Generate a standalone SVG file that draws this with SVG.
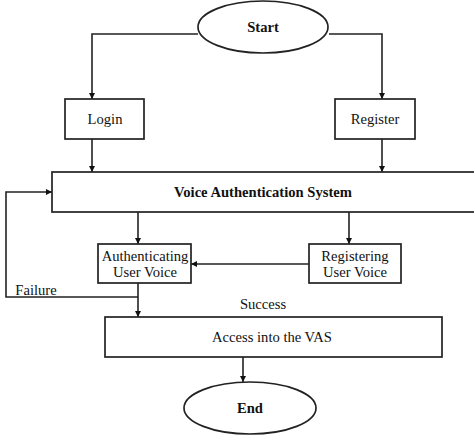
<svg xmlns="http://www.w3.org/2000/svg" width="474" height="436" viewBox="0 0 474 436">
<style>
.s{fill:#fff;stroke:#222;stroke-width:1.7}
.c{fill:none;stroke:#222;stroke-width:1.6}
text{font-family:"Liberation Serif","Times New Roman",serif;font-size:14.6px;fill:#111;text-anchor:middle}
.b{font-weight:bold}
</style>
<defs>
<marker id="a" viewBox="0 0 10 10" refX="10" refY="5" markerWidth="6" markerHeight="7" orient="auto" markerUnits="userSpaceOnUse">
<path d="M0,0 L10,5 L0,10 z" fill="#111"/>
</marker>
</defs>
<rect width="474" height="436" fill="#fff"/>
<g id="connectors">
<path class="c" d="M198,34 H92 V99" marker-end="url(#a)"/>
<path class="c" d="M329,34 H382 V99" marker-end="url(#a)"/>
<path class="c" d="M92,139 V172" marker-end="url(#a)"/>
<path class="c" d="M382,139 V172" marker-end="url(#a)"/>
<path class="c" d="M138,212 V244" marker-end="url(#a)"/>
<path class="c" d="M349,212 V244" marker-end="url(#a)"/>
<path class="c" d="M309,264 H191" marker-end="url(#a)"/>
<path class="c" d="M138,283 V317" marker-end="url(#a)"/>
<path class="c" d="M138,297 H6 V192 H52" marker-end="url(#a)"/>
<path class="c" d="M243,357 V382" marker-end="url(#a)"/>
<text x="36" y="295">Failure</text>
<text x="263" y="309">Success</text>
</g>
<g id="start">
<ellipse class="s" cx="263" cy="27" rx="65" ry="26"/>
<text class="b" x="263" y="32">Start</text>
</g>
<g id="login">
<rect class="s" x="65" y="99" width="79" height="40"/>
<text x="105" y="124">Login</text>
</g>
<g id="register">
<rect class="s" x="335" y="99" width="80" height="40"/>
<text x="375" y="124">Register</text>
</g>
<g id="vas">
<rect class="s" x="52" y="172" width="430" height="40"/>
<text class="b" x="263" y="197">Voice Authentication System</text>
</g>
<g id="auth">
<rect class="s" x="98" y="244" width="93" height="39"/>
<text x="145" y="261">Authenticating</text>
<text x="145" y="277">User Voice</text>
</g>
<g id="registering">
<rect class="s" x="309" y="244" width="92" height="39"/>
<text x="355" y="261">Registering</text>
<text x="355" y="277">User Voice</text>
</g>
<g id="access">
<rect class="s" x="105" y="317" width="337" height="40"/>
<text x="272" y="342">Access into the VAS</text>
</g>
<g id="end">
<ellipse class="s" cx="250" cy="408" rx="66" ry="26"/>
<text class="b" x="250" y="413">End</text>
</g>
</svg>
